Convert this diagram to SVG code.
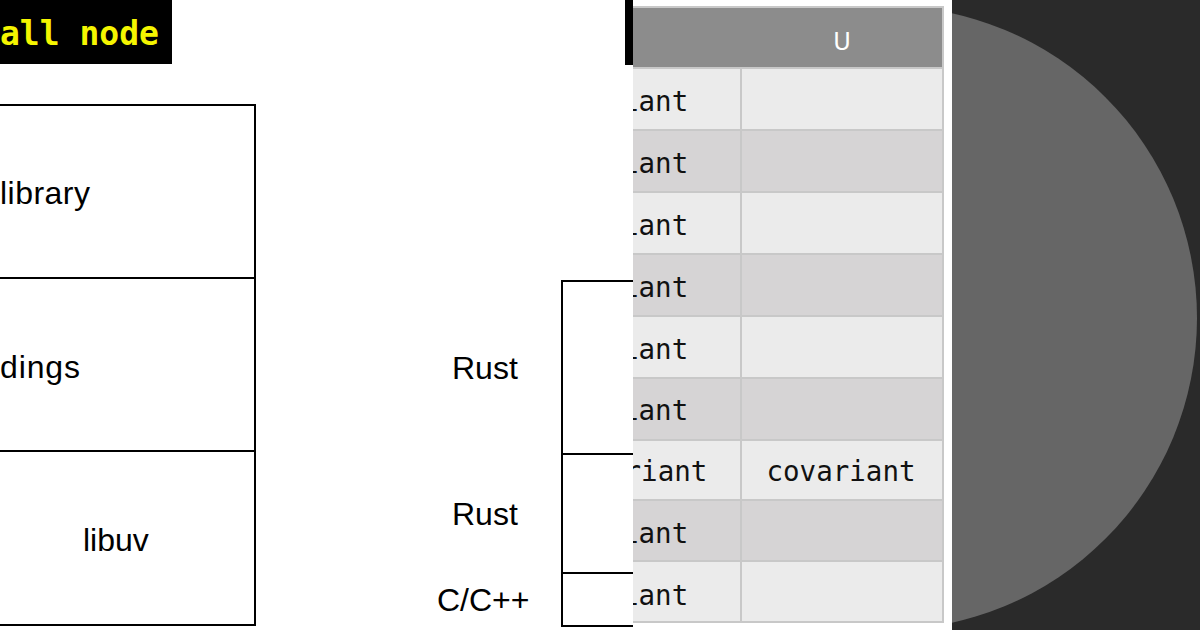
<svg xmlns="http://www.w3.org/2000/svg" width="1200" height="630" viewBox="0 0 1200 630">
<defs>
<style>
.s{font-family:"Liberation Sans",Arial,sans-serif;font-size:32px;fill:#000}
.m{font-family:"DejaVu Sans Mono",monospace;font-size:27.5px;fill:#111}
.b{fill:none;stroke:#000;stroke-width:2}
.l{fill:#ebebeb;stroke:#c8c8c8;stroke-width:2}
.d{fill:#d6d4d5;stroke:#c8c8c8;stroke-width:2}
</style>
<clipPath id="rc"><rect x="952" y="0" width="248" height="630"/></clipPath>
<clipPath id="tc"><rect x="633" y="0" width="320" height="630"/></clipPath>
</defs>
<rect width="1200" height="630" fill="#fff"/>
<g id="title"><rect x="0" y="0" width="172" height="64" fill="#000"/>
<text x="0" y="45" style="font-family:'DejaVu Sans Mono',monospace;font-size:33px;font-weight:bold;fill:#f5f500">all node</text></g>
<g id="stackL">
<rect class="b" x="-5" y="105" width="260" height="173"/><text class="s" x="0" y="204" textLength="90">library</text>
<rect class="b" x="-5" y="278" width="260" height="173"/><text class="s" x="0" y="378" textLength="80">dings</text>
<rect class="b" x="-5" y="451" width="260" height="174"/><text class="s" x="83" y="551">libuv</text>
</g>
<g id="stackR">
<text class="s" x="452" y="379">Rust</text>
<text class="s" x="452" y="525">Rust</text>
<text class="s" x="437" y="611">C/C++</text>
<rect class="b" x="562" y="281" width="80" height="173"/>
<rect class="b" x="562" y="454" width="80" height="119"/>
<rect class="b" x="562" y="573" width="80" height="53"/>
</g>
<rect x="625" y="0" width="8" height="65" fill="#000"/>
<g id="table" clip-path="url(#tc)">
<rect x="620" y="0" width="332" height="630" fill="#fff"/>
<rect x="620" y="7" width="323" height="61" fill="#8c8c8c" stroke="#c8c8c8" stroke-width="2"/>
<text x="842" y="50" text-anchor="middle" style="font-family:'DejaVu Sans',sans-serif;font-size:24px;fill:#fff">U</text>
<g>
<rect class="l" x="620" y="68" width="121" height="62"/><rect class="l" x="741" y="68" width="202" height="62"/>
<rect class="d" x="620" y="130" width="121" height="62"/><rect class="d" x="741" y="130" width="202" height="62"/>
<rect class="l" x="620" y="192" width="121" height="62"/><rect class="l" x="741" y="192" width="202" height="62"/>
<rect class="d" x="620" y="254" width="121" height="62"/><rect class="d" x="741" y="254" width="202" height="62"/>
<rect class="l" x="620" y="316" width="121" height="62"/><rect class="l" x="741" y="316" width="202" height="62"/>
<rect class="d" x="620" y="378" width="121" height="62"/><rect class="d" x="741" y="378" width="202" height="62"/>
<rect class="l" x="620" y="440" width="121" height="60"/><rect class="l" x="741" y="440" width="202" height="60"/>
<rect class="d" x="620" y="500" width="121" height="61"/><rect class="d" x="741" y="500" width="202" height="61"/>
<rect class="l" x="620" y="561" width="121" height="61"/><rect class="l" x="741" y="561" width="202" height="61"/>
</g>
<text class="m" x="622" y="111">iant</text>
<text class="m" x="622" y="173">iant</text>
<text class="m" x="622" y="235">iant</text>
<text class="m" x="622" y="297">iant</text>
<text class="m" x="622" y="359">iant</text>
<text class="m" x="622" y="420">iant</text>
<text class="m" x="608" y="481">ariant</text>
<text class="m" x="841" y="481" text-anchor="middle">covariant</text>
<text class="m" x="622" y="543">iant</text>
<text class="m" x="622" y="605">iant</text>
</g>
<g id="dark">
<rect x="952" y="0" width="248" height="630" fill="#2a2a2a"/>
<circle cx="885" cy="318" r="312" fill="#666" clip-path="url(#rc)"/>
</g>
</svg>
